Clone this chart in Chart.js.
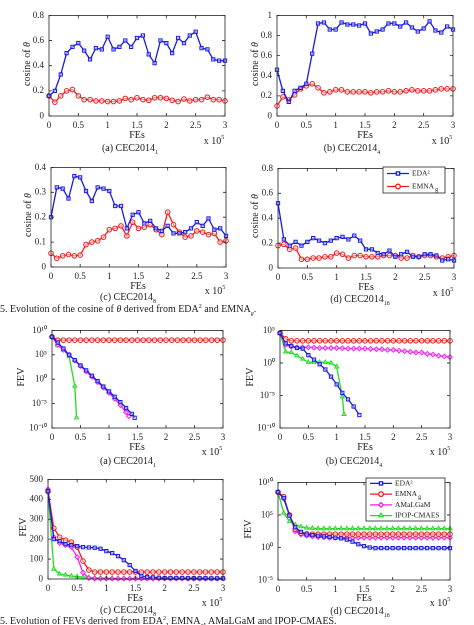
<!DOCTYPE html>
<html><head><meta charset="utf-8">
<script src="https://cdn.jsdelivr.net/npm/chart.js@4"></script>
<style>
body{margin:0;background:#fff;width:474px;height:625px;position:relative;overflow:hidden;font-family:"Liberation Serif",serif;color:#222}
canvas{position:absolute}
.t{position:absolute;font-size:10px;white-space:nowrap;transform:translate(-50%,-50%)}
.r{position:absolute;font-size:10px;white-space:nowrap;transform:translate(-50%,-50%) rotate(-90deg)}
.l{position:absolute;font-size:10px;white-space:nowrap;line-height:11px}
sub,sup{font-size:6px;line-height:0}
</style></head><body>
<script>
const fes = [0,0.1,0.2,0.3,0.4,0.5,0.6,0.7,0.8,0.9,1.0,1.1,1.2,1.3,1.4,1.5,1.6,1.7,1.8,1.9,2.0,2.1,2.2,2.3,2.4,2.5,2.6,2.7,2.8,2.9,3.0];
// cosine of theta
const cosA_eda = [0.16,0.2,0.33,0.5,0.55,0.58,0.52,0.45,0.54,0.53,0.63,0.53,0.55,0.6,0.55,0.62,0.64,0.49,0.42,0.6,0.58,0.5,0.62,0.58,0.64,0.67,0.54,0.53,0.45,0.44,0.44];
const cosA_emna = [0.16,0.11,0.16,0.2,0.21,0.16,0.13,0.13,0.12,0.12,0.115,0.115,0.12,0.14,0.13,0.145,0.13,0.125,0.145,0.145,0.14,0.125,0.115,0.135,0.12,0.13,0.13,0.15,0.13,0.13,0.12];
const cosB_eda = [0.46,0.25,0.14,0.25,0.28,0.32,0.62,0.92,0.93,0.86,0.86,0.93,0.91,0.91,0.9,0.92,0.82,0.84,0.86,0.92,0.92,0.89,0.93,0.88,0.84,0.87,0.94,0.85,0.83,0.89,0.86];
const cosB_emna = [0.1,0.19,0.16,0.21,0.27,0.3,0.32,0.28,0.23,0.24,0.26,0.26,0.24,0.24,0.24,0.24,0.23,0.24,0.24,0.25,0.24,0.24,0.25,0.26,0.25,0.25,0.25,0.26,0.27,0.27,0.27];
const cosC_eda = [0.2,0.32,0.315,0.275,0.365,0.36,0.305,0.265,0.32,0.315,0.305,0.245,0.245,0.155,0.21,0.22,0.175,0.185,0.155,0.145,0.165,0.135,0.135,0.14,0.155,0.18,0.165,0.195,0.15,0.155,0.125];
const cosC_emna = [0.055,0.035,0.045,0.05,0.045,0.048,0.09,0.1,0.105,0.12,0.15,0.155,0.165,0.125,0.18,0.155,0.16,0.17,0.15,0.13,0.22,0.17,0.14,0.12,0.125,0.145,0.14,0.13,0.135,0.1,0.105];
const cosD_eda = [0.52,0.23,0.18,0.21,0.18,0.21,0.24,0.22,0.2,0.22,0.24,0.25,0.23,0.26,0.22,0.15,0.15,0.12,0.11,0.14,0.09,0.11,0.13,0.09,0.09,0.11,0.11,0.1,0.06,0.07,0.06];
const cosD_emna = [0.18,0.19,0.15,0.16,0.07,0.07,0.08,0.08,0.09,0.09,0.12,0.11,0.08,0.1,0.1,0.09,0.09,0.09,0.1,0.1,0.1,0.08,0.08,0.1,0.09,0.1,0.1,0.09,0.08,0.09,0.1];
// FEV (log10 exponents for log panels)
const fevA_eda_x = [0,0.1,0.2,0.3,0.4,0.5,0.6,0.7,0.8,0.9,1.0,1.1,1.2,1.3,1.4,1.45];
const fevA_eda = [8.7,7.5,6.3,5.0,3.9,2.8,1.8,0.7,-0.4,-1.5,-2.5,-3.6,-4.7,-5.9,-7.1,-7.9];
const fevA_emna = [8.7,8.0,8.0,8.0,8.0,8.0,8.0,8.0,8.0,8.0,8.0,8.0,8.0,8.0,8.0,8.0,8.0,8.0,8.0,8.0,8.0,8.0,8.0,8.0,8.0,8.0,8.0,8.0,8.0,8.0,8.0];
const fevA_amal_x = [0,0.1,0.2,0.3,0.4,0.5,0.6,0.7,0.8,0.9,1.0,1.1,1.2,1.3,1.35];
const fevA_amal = [8.7,7.0,6.0,5.0,3.8,2.7,1.6,0.5,-0.6,-1.7,-2.8,-4.0,-5.3,-6.8,-7.6];
const fevA_ipop_x = [0,0.1,0.2,0.3,0.4,0.43];
const fevA_ipop = [8.7,7.0,6.0,4.7,-1.4,-7.9];
const fevB_eda_x = [0,0.1,0.2,0.3,0.4,0.5,0.6,0.7,0.8,0.9,1.0,1.1,1.2,1.3,1.4];
const fevB_eda = [4.6,3.0,2.6,2.3,2.2,1.2,0.5,-0.2,-1.0,-2.1,-3.3,-4.6,-5.6,-6.7,-8.0];
const fevB_emna = [4.6,3.7,3.4,3.4,3.4,3.4,3.4,3.4,3.4,3.4,3.4,3.4,3.4,3.4,3.4,3.4,3.4,3.4,3.4,3.4,3.4,3.4,3.4,3.4,3.4,3.4,3.4,3.4,3.4,3.4,3.4];
const fevB_amal = [4.6,2.8,2.5,2.4,2.4,2.4,2.35,2.3,2.3,2.3,2.3,2.25,2.2,2.2,2.2,2.2,2.15,2.1,2.1,2.0,2.0,1.9,1.8,1.7,1.6,1.6,1.4,1.3,1.1,1.0,0.9];
const fevB_ipop_x = [0,0.1,0.2,0.3,0.4,0.5,0.6,0.7,0.8,0.9,1.0,1.1,1.13];
const fevB_ipop = [4.6,1.7,1.6,1.1,0.6,0.1,0.1,0.1,0.1,0.0,-0.6,-5.2,-7.9];
const fevC_eda = [440,200,190,175,170,165,160,158,157,152,140,130,115,95,70,40,15,10,8,6,5,5,5,5,4,4,4,4,3,3,3];
const fevC_emna = [440,255,210,195,185,160,90,45,35,35,35,35,35,35,35,35,35,35,35,35,35,35,35,35,35,35,35,35,35,35,35];
const fevC_amal = [450,210,180,170,160,110,32,5,2,2,2,2,2,2,2,2,2,2,2,2,2,2,2,2,2,2,2,2,2,2,2];
const fevC_ipop = [440,50,25,20,15,12,10,8,6,5,4,4,3,3,3,3,3,3,3,3,3,3,3,3,3,3,3,3,3,3,3];
const fevD_eda = [8.5,7.6,4.9,3.1,2.4,2.0,1.9,1.8,1.7,1.6,1.5,1.4,1.2,0.9,0.5,0.2,0.0,-0.1,-0.1,-0.1,-0.1,-0.1,-0.1,-0.1,-0.1,-0.1,-0.1,-0.1,-0.1,-0.1,-0.1];
const fevD_emna = [8.5,7.8,5.0,2.8,2.2,2.1,2.05,2.05,2.05,2.05,2.05,2.05,2.05,2.05,2.05,2.05,2.05,2.05,2.05,2.05,2.05,2.05,2.05,2.05,2.05,2.05,2.05,2.05,2.05,2.05,2.05];
const fevD_amal = [8.5,7.5,5.0,2.5,2.0,1.8,1.7,1.6,1.55,1.5,1.5,1.5,1.5,1.5,1.5,1.5,1.5,1.5,1.5,1.5,1.5,1.5,1.5,1.5,1.5,1.5,1.5,1.5,1.5,1.5,1.5];
const fevD_ipop = [8.5,5.3,4.0,3.5,3.2,3.0,2.95,2.9,2.9,2.9,2.9,2.9,2.9,2.9,2.9,2.9,2.9,2.9,2.9,2.9,2.9,2.9,2.9,2.9,2.9,2.9,2.9,2.9,2.9,2.9,2.9];
const xTicks = [0,0.5,1,1.5,2,2.5,3];
const logTickLabels = {"-10":"10⁻¹⁰","-5":"10⁻⁵","0":"10⁰","5":"10⁵","10":"10¹⁰"};

const STY = {
  eda:{c:'#1a1ae6',p:'rect',l:'EDA²'},
  emna:{c:'#ee1c1c',p:'circle',l:'EMNA',sub:'g'},
  amal:{c:'#ee22ee',p:'rectRot',l:'AMaLGaM'},
  ipop:{c:'#22dd22',p:'triangle',l:'IPOP-CMAES'}
};
function pts(xs, ys, log){return ys.map((v,i)=>({x:xs[i], y: log ? Math.pow(10,v) : v}));}
function ds(key, xs, ys, log){
  const s=STY[key];
  return {label:s.l,data:pts(xs,ys,log),borderColor:s.c,backgroundColor:'rgba(255,255,255,0.5)',borderWidth:1.3,
    pointStyle:s.p,pointRadius:2.3,pointBorderWidth:1,pointBorderColor:s.c,clip:false,key:key};
}
const L=36,B=16,T=6,R=8;
const FONT={family:'Liberation Serif',size:9};
const boxPlugin={id:'boxp',afterDraw(ch){
  const c=ch.ctx,a=ch.chartArea;c.save();c.strokeStyle='#222';c.lineWidth=0.8;
  c.strokeRect(a.left,a.top,a.right-a.left,a.bottom-a.top);
  const xs=ch.scales.x, ys=ch.scales.y;
  xs.ticks.forEach(t=>{const p=xs.getPixelForValue(t.value);c.beginPath();c.moveTo(p,a.bottom);c.lineTo(p,a.bottom-3);c.moveTo(p,a.top);c.lineTo(p,a.top+3);c.stroke();});
  ys.ticks.forEach(t=>{const p=ys.getPixelForValue(t.value);c.beginPath();c.moveTo(a.left,p);c.lineTo(a.left+3,p);c.moveTo(a.right,p);c.lineTo(a.right-3,p);c.stroke();});
  const lg=ch.options.plugins.boxp&&ch.options.plugins.boxp.legend;
  if(lg){
    const cv=ch.canvas, ox=parseFloat(cv.style.left), oy=parseFloat(cv.style.top);
    const x0=lg[0]-ox,y0=lg[1]-oy,w=lg[2]-lg[0],h=lg[3]-lg[1];
    c.fillStyle='#fff';c.fillRect(x0,y0,w,h);c.strokeRect(x0,y0,w,h);
    const n=ch.data.datasets.length, step=h/n;
    ch.data.datasets.forEach((d,i)=>{
      const s=STY[d.key], yy=y0+step*(i+0.5);
      c.strokeStyle=s.c;c.lineWidth=1.3;c.beginPath();c.moveTo(x0+4,yy);c.lineTo(x0+26,yy);c.stroke();
      c.fillStyle='#fff';
      Chart.helpers.drawPoint(c,{pointStyle:s.p,radius:2.3,borderWidth:1},x0+15,yy);
      c.fillStyle='#222';c.font='7.5px "Liberation Serif"';c.textBaseline='middle';c.fillText(s.l,x0+29,yy);
      if(s.sub){const tw=c.measureText(s.l).width;c.font='6px "Liberation Serif"';c.fillText(s.sub,x0+29+tw+1,yy+3);}
    });
  }
  c.restore();
}};
function mk(box, datasets, yopt, legend){
  const cv=document.createElement('canvas');
  const w=box[2]-box[0]+L+R, h=box[3]-box[1]+T+B;
  cv.width=w;cv.height=h;cv.style.left=(box[0]-L)+'px';cv.style.top=(box[1]-T)+'px';
  cv.style.width=w+'px';cv.style.height=h+'px';
  document.body.appendChild(cv);
  const y=Object.assign({grid:{display:false,drawTicks:false},border:{display:false},afterFit(s){s.width=L;}},yopt);
  new Chart(cv,{type:'line',data:{datasets},plugins:[boxPlugin],options:{
    responsive:false,animation:false,devicePixelRatio:2,
    layout:{padding:{top:T,right:R,left:0,bottom:0}},
    plugins:{legend:{display:false},tooltip:{enabled:false},boxp:{legend}},
    scales:{x:{type:'linear',min:0,max:3,grid:{display:false,drawTicks:false},border:{display:false},
      afterBuildTicks(s){s.ticks=xTicks.map(v=>({value:v}));},
      ticks:{color:'#222',font:FONT,padding:4,maxRotation:0,autoSkip:false,callback:v=>String(v)},
      afterFit(s){s.height=B;}},y}
  }});
}
function linY(min,max,step,fmt){return {type:'linear',min,max,ticks:{stepSize:step,color:'#222',font:FONT,padding:5,callback:fmt||(v=>String(+v.toFixed(2)))}};}
function logY(minE,maxE){return {type:'logarithmic',min:Math.pow(10,minE),max:Math.pow(10,maxE),
  afterBuildTicks(s){const t=[];for(let e=minE;e<=maxE;e+=5)t.push({value:Math.pow(10,e)});s.ticks=t;},
  ticks:{color:'#222',font:FONT,padding:5,autoSkip:false,callback:v=>logTickLabels[String(Math.round(Math.log10(v)))]||''}};}

mk([49,11,225,116],[ds('eda',fes,cosA_eda),ds('emna',fes,cosA_emna)],linY(0,0.8,0.2));
mk([277,11,453,116],[ds('eda',fes,cosB_eda),ds('emna',fes,cosB_emna)],linY(0,1,0.2));
mk([51,163,226,267],[ds('eda',fes,cosC_eda),ds('emna',fes,cosC_emna)],linY(0,0.4,0.1));
mk([278,164,454,268],[ds('eda',fes,cosD_eda),ds('emna',fes,cosD_emna)],linY(0,0.8,0.2),[383,167,445,193]);
mk([52,326,223,428],[ds('eda',fevA_eda_x,fevA_eda,1),ds('emna',fes,fevA_emna,1),ds('amal',fevA_amal_x,fevA_amal,1),ds('ipop',fevA_ipop_x,fevA_ipop,1)],logY(-10,10));
mk([280,326,450,428],[ds('eda',fevB_eda_x,fevB_eda,1),ds('emna',fes,fevB_emna,1),ds('amal',fes,fevB_amal,1),ds('ipop',fevB_ipop_x,fevB_ipop,1)],logY(-10,5));
mk([48,475,223,579],[ds('eda',fes,fevC_eda),ds('emna',fes,fevC_emna),ds('amal',fes,fevC_amal),ds('ipop',fes,fevC_ipop)],linY(0,500,100,v=>String(v)));
mk([278,478,450,580],[ds('eda',fes,fevD_eda,1),ds('emna',fes,fevD_emna,1),ds('amal',fes,fevD_amal,1),ds('ipop',fes,fevD_ipop,1)],logY(-5,10),[366,478,445,521]);
</script>
<!-- axis labels & captions -->
<div class="r" style="left:26px;top:64px">cosine of <i>θ</i></div>
<div class="r" style="left:254px;top:64px">cosine of <i>θ</i></div>
<div class="r" style="left:27px;top:215px">cosine of <i>θ</i></div>
<div class="r" style="left:254px;top:216px">cosine of <i>θ</i></div>
<div class="r" style="left:20px;top:377px">FEV</div>
<div class="r" style="left:249px;top:377px">FEV</div>
<div class="r" style="left:22px;top:527px">FEV</div>
<div class="r" style="left:247px;top:529px">FEV</div>
<div class="t" style="left:137px;top:134px">FEs</div>
<div class="t" style="left:365px;top:134px">FEs</div>
<div class="t" style="left:138px;top:285px">FEs</div>
<div class="t" style="left:366px;top:286px">FEs</div>
<div class="t" style="left:137px;top:446px">FEs</div>
<div class="t" style="left:365px;top:446px">FEs</div>
<div class="t" style="left:135px;top:597px">FEs</div>
<div class="t" style="left:364px;top:597px">FEs</div>
<div class="t" style="left:214px;top:140px">x 10<sup>5</sup></div>
<div class="t" style="left:442px;top:140px">x 10<sup>5</sup></div>
<div class="t" style="left:215px;top:290px">x 10<sup>5</sup></div>
<div class="t" style="left:443px;top:292px">x 10<sup>5</sup></div>
<div class="t" style="left:212px;top:451px">x 10<sup>5</sup></div>
<div class="t" style="left:440px;top:451px">x 10<sup>5</sup></div>
<div class="t" style="left:212px;top:602px">x 10<sup>5</sup></div>
<div class="t" style="left:440px;top:602px">x 10<sup>5</sup></div>
<div class="t" style="left:130px;top:147px">(a) CEC2014<sub>1</sub></div>
<div class="t" style="left:352px;top:147px">(b) CEC2014<sub>4</sub></div>
<div class="t" style="left:128px;top:296px">(c) CEC2014<sub>8</sub></div>
<div class="t" style="left:360px;top:298px">(d) CEC2014<sub>16</sub></div>
<div class="t" style="left:128px;top:460px">(a) CEC2014<sub>1</sub></div>
<div class="t" style="left:354px;top:460px">(b) CEC2014<sub>4</sub></div>
<div class="t" style="left:128px;top:609px">(c) CEC2014<sub>8</sub></div>
<div class="t" style="left:360px;top:610px">(d) CEC2014<sub>16</sub></div>
<div class="l" style="left:0px;top:303px">5. Evolution of the cosine of <i>θ</i> derived from EDA<sup>2</sup> and EMNA<sub><i>g</i></sub>.</div>
<div class="l" style="left:0px;top:615px">5. Evolution of FEVs derived from EDA<sup>2</sup>, EMNA<sub><i>g</i></sub>, AMaLGaM and IPOP-CMAES.</div>
</body></html>
